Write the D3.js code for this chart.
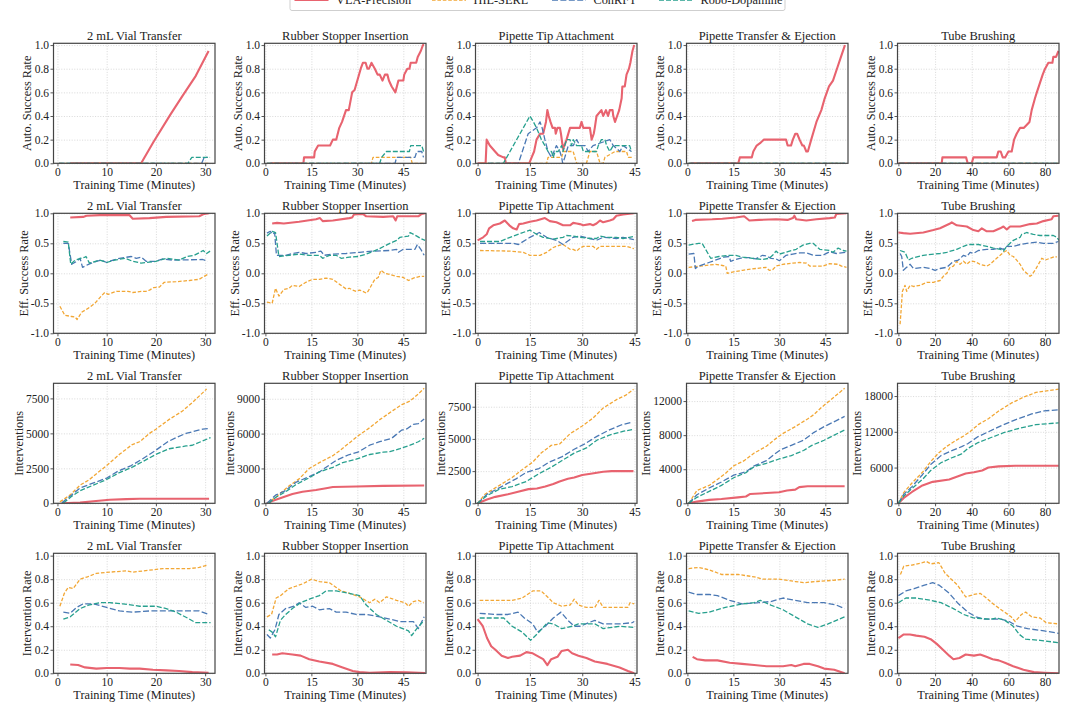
<!DOCTYPE html>
<html>
<head>
<meta charset="utf-8">
<script src="https://cdn.jsdelivr.net/npm/d3@7"></script>
<style>
  body { margin: 0; background: #fff; }
  svg text { font-family: "Liberation Serif", "Times New Roman", serif; fill: #222; }
</style>
</head>
<body>
<svg id="fig" width="1076" height="723" font-family="Liberation Serif"></svg>
<script>
// 4 metrics x 5 tasks, four methods per panel. Points are [minute, value].

const tasks = ["2 mL Vial Transfer", "Rubber Stopper Insertion", "Pipette Tip Attachment",
               "Pipette Transfer & Ejection", "Tube Brushing"];
const methods = ["VLA-Precision", "HIL-SERL", "ConRFT", "Robo-Dopamine"];

const xMax   = [32.0, 52.4, 45.7, 52.4, 87.6];
const xMin   = [-0.8, -0.3, -0.6, -0.3, -0.5];
const xTicks = [[0,10,20,30], [0,15,30,45], [0,15,30,45], [0,15,30,45], [0,20,40,60,80]];

const rateTicks = [0, 0.2, 0.4, 0.6, 0.8, 1.0];
const effTicks  = [-1.0, -0.5, 0.0, 0.5, 1.0];
const intTicks  = [[0,2500,5000,7500], [0,3000,6000,9000], [0,2500,5000,7500], [0,4000,8000,12000], [0,6000,12000,18000]];
const intTop    = [8580, 10330, 9320, 14085, 20140];

// ---- Auto. Success Rate ----
const autoVLA = [
  [[2.6,0],[17,0],[19.5,0.18],[22.9,0.41],[25.4,0.57],[28.1,0.74],[30.7,0.95]],
  [[1.6,0],[12.4,0],[12.6,0.05],[15.9,0.05],[16.1,0.1],[17.2,0.15],[21.1,0.15],[22,0.2],[23.1,0.2],[24.1,0.3],[25,0.35],[26.3,0.45],[27.2,0.45],[28.3,0.6],[29.1,0.62],[31.1,0.8],[31.8,0.85],[32.7,0.85],[33.3,0.8],[33.8,0.8],[34.6,0.85],[35.7,0.8],[36.6,0.75],[37.3,0.75],[38.2,0.7],[39,0.75],[39.8,0.75],[40.3,0.7],[41.2,0.65],[42.4,0.6],[43.4,0.7],[45,0.7],[45.3,0.75],[46.3,0.8],[47,0.8],[47.4,0.85],[49.2,0.85],[49.7,0.9],[50.7,0.95],[51.4,1.0],[51.8,1.0]],
  [[0,0],[2.3,0],[2.6,0.2],[3.5,0.15],[5,0.1],[5.9,0.07],[7.4,0.05],[7.8,0.05],[8.1,0],[14.8,0],[15.5,0.05],[16.2,0.1],[16.9,0.2],[17.9,0.25],[18.8,0.25],[19.6,0.35],[20,0.45],[20.4,0.4],[20.9,0.35],[21.5,0.3],[22.2,0.3],[22.4,0.25],[22.9,0.3],[23.6,0.3],[23.9,0.25],[24.5,0.12],[25.5,0.2],[26.5,0.3],[29.3,0.3],[29.8,0.35],[30.3,0.3],[32.2,0.3],[32.7,0.2],[33.3,0.25],[33.6,0.3],[34.1,0.4],[35.5,0.45],[36,0.4],[36.8,0.45],[37.4,0.4],[37.9,0.45],[38.7,0.45],[38.9,0.4],[39.4,0.35],[40,0.4],[40.6,0.45],[41.3,0.55],[41.5,0.65],[42.2,0.65],[42.7,0.75],[43.4,0.8],[43.8,0.85],[44.4,0.95],[44.9,1.0]],
  [[1.0,0],[16.6,0],[17.1,0.05],[21,0.05],[21.5,0.1],[22.6,0.15],[23.7,0.17],[24.9,0.2],[32.2,0.2],[32.7,0.15],[33.8,0.15],[34.4,0.2],[35.2,0.25],[35.8,0.25],[36.6,0.2],[37.5,0.15],[38,0.15],[38.8,0.1],[39.3,0.1],[40.4,0.2],[42.1,0.35],[43.7,0.45],[44.8,0.55],[46.2,0.65],[47.5,0.7],[48.8,0.8],[50.1,0.9],[51.4,1.0]],
  [[0,0],[23.6,0],[24,0.05],[36.9,0.05],[37.8,0],[40,0],[40.9,0.05],[53.6,0.05],[54.5,0.1],[55.8,0.1],[56.9,0.05],[58.2,0.05],[60,0.1],[61.8,0.1],[63.1,0.2],[64.5,0.25],[66.4,0.3],[68.5,0.3],[71.5,0.35],[72.7,0.45],[74.5,0.55],[75.5,0.6],[78.7,0.75],[80,0.8],[81.8,0.85],[84,0.85],[84.5,0.9],[86,0.9],[87.3,0.95]]
];
const autoHIL = [
  [[0.3,0],[31,0]],
  [[0.5,0],[34.6,0],[35.1,0.05],[47.4,0.05],[47.9,0],[51.8,0]],
  [[0.7,0],[19.8,0],[20.2,0.05],[24.1,0.05],[24.5,0.1],[27.4,0.1],[27.9,0.05],[28.4,0],[31.2,0],[31.7,0.05],[32.2,0.1],[34.1,0.1],[34.6,0.05],[35.1,0],[36,0],[36.5,0.05],[39.4,0.1],[42.7,0.1],[43.2,0.05],[44.4,0.05]],
  [[0.4,0],[51.4,0]],
  [[0.5,0],[87.3,0]]
];
const autoCon = [
  [[0.3,0],[29.3,0],[29.8,0.05],[30.5,0.05]],
  [[0.5,0],[42.3,0],[42.8,0.05],[48.8,0.05],[49.4,0.1],[51,0.1],[51.6,0.05]],
  [[3,0],[11.7,0],[14.5,0.25],[16.9,0.3],[17.9,0.35],[18.5,0.3],[19.3,0.2],[20.2,0.1],[21.2,0.05],[21.9,0.1],[22.6,0.15],[23.6,0.1],[24.1,0.05],[24.4,0],[25,0.05],[25.5,0.1],[26,0.15],[27.4,0.15],[28.4,0.2],[29.3,0.15],[30.8,0.15],[31.7,0.1],[33.1,0.15],[37.9,0.2],[38.9,0.15],[40.8,0.1],[41.7,0.15],[44.1,0.1]],
  [[0.4,0],[51.4,0]],
  [[0.5,0],[87.3,0]]
];
const autoRobo = [
  [[0.3,0],[26.5,0],[27.3,0.05],[31,0.05]],
  [[0.5,0],[37.3,0],[37.9,0.05],[39.5,0.1],[47,0.1],[47.4,0.15],[51,0.15],[51.6,0.1]],
  [[3,0],[7.4,0],[15,0.4],[16,0.35],[16.9,0.3],[18.3,0.2],[19.3,0.15],[20.2,0.1],[21.2,0.1],[21.7,0.05],[22.2,0.1],[23.1,0.1],[24.1,0.15],[24.5,0.1],[25.5,0.2],[26.5,0.2],[26.9,0.15],[27.4,0.2],[28.4,0.15],[29.8,0.15],[30.3,0.1],[34.1,0.1],[34.6,0.15],[35.5,0.2],[36.5,0.2],[37,0.15],[37.9,0.1],[38.9,0.15],[43.6,0.15],[44.1,0.1]],
  [[0.4,0],[51.4,0]],
  [[0.5,0],[87.3,0]]
];

// ---- Eff. Success Rate ----
const effVLA = [
  [[2.6,0.93],[5.2,0.94],[5.9,0.96],[8.6,0.97],[14.6,0.97],[15.3,0.91],[18.7,0.92],[22.1,0.94],[28.8,0.95],[29.8,0.99],[30.8,1.0]],
  [[2.2,0.83],[3.8,0.84],[6,0.83],[11,0.86],[16.5,0.9],[17.8,0.92],[18.7,0.87],[22,0.88],[27.4,0.92],[28.3,0.93],[28.9,0.98],[31.8,0.99],[32.9,0.95],[38.4,0.94],[41.7,0.95],[42.5,0.88],[43,0.95],[49.9,0.95],[51,0.99],[52.1,1.0]],
  [[0,0.55],[1.6,0.6],[2.6,0.65],[3.3,0.75],[4.5,0.8],[6.4,0.83],[7.8,0.88],[9.1,0.8],[10.2,0.75],[11.2,0.73],[11.9,0.82],[13.1,0.83],[15,0.86],[16.9,0.88],[19.3,0.92],[20.7,0.87],[22.6,0.85],[24.5,0.8],[26.5,0.8],[27.4,0.84],[28.4,0.83],[29.3,0.82],[30.3,0.8],[32.2,0.82],[33.1,0.8],[34.1,0.83],[35.1,0.88],[36,0.85],[37.9,0.88],[38.9,0.9],[39.8,0.96],[41.7,0.98],[44.8,1.0]],
  [[1.5,0.87],[2.6,0.89],[8.1,0.9],[11.4,0.91],[15.8,0.93],[18.5,0.95],[20.2,0.88],[23.4,0.89],[28.9,0.9],[32.7,0.89],[34.4,0.92],[34.9,0.96],[35.5,0.9],[38.8,0.88],[42.1,0.9],[46.4,0.92],[48.1,0.93],[48.6,0.99],[51.9,1.0]],
  [[0,0.68],[2.7,0.67],[6.4,0.66],[13.6,0.68],[19.1,0.72],[22.7,0.75],[28.2,0.83],[29.1,0.85],[31.8,0.8],[37.3,0.78],[40.9,0.72],[43.6,0.7],[45.5,0.75],[48.2,0.7],[51.8,0.7],[55.5,0.75],[57.3,0.78],[59.1,0.73],[60.9,0.78],[66.4,0.78],[71.8,0.82],[75.5,0.83],[79.1,0.87],[83.6,0.9],[84.5,0.95],[87.3,0.96]]
];
const effHIL = [
  [[0.5,-0.55],[1.5,-0.7],[2.9,-0.72],[3.6,-0.73],[4,-0.77],[4.9,-0.65],[6.3,-0.58],[7.6,-0.5],[8.9,-0.38],[9.6,-0.32],[10.3,-0.35],[12,-0.3],[14.3,-0.3],[15.3,-0.32],[17,-0.3],[18,-0.3],[18.7,-0.28],[19.5,-0.24],[20.7,-0.23],[21.7,-0.15],[24.1,-0.14],[26.8,-0.12],[28.8,-0.1],[29.8,-0.05],[30.5,-0.02]],
  [[0.5,-0.48],[2.2,-0.5],[3.3,-0.25],[4.4,-0.38],[6,-0.27],[7.7,-0.25],[8.8,-0.2],[11,-0.22],[13.2,-0.15],[15.4,-0.1],[17.6,-0.1],[19.8,-0.08],[22,-0.1],[24.1,-0.18],[26.3,-0.26],[27.4,-0.25],[28.5,-0.28],[29.6,-0.3],[30.7,-0.28],[31.8,-0.3],[32.9,-0.33],[33.5,-0.3],[34.6,-0.2],[35.7,-0.1],[36.8,-0.07],[37.7,0.05],[39,0],[40.6,-0.02],[42.8,-0.05],[45,-0.07],[46.7,-0.12],[48.3,-0.08],[50.5,-0.05],[51.8,-0.05]],
  [[0.7,0.38],[9.3,0.37],[13.1,0.35],[15,0.3],[17.9,0.3],[19.8,0.35],[21.7,0.43],[22.6,0.45],[23.6,0.47],[24.5,0.48],[26.5,0.4],[27.4,0.4],[28.4,0.37],[29.3,0.42],[30.3,0.45],[33.1,0.45],[34.1,0.4],[35.1,0.45],[42.7,0.45],[44.8,0.41]],
  [[0.4,0.1],[2.6,0.11],[9.2,0.15],[11.4,0.13],[12.5,0.12],[13,0],[14.7,0.02],[18,0.05],[22.3,0.08],[25.6,0.1],[26.7,0.05],[27.8,0.06],[28.9,0.12],[31.1,0.15],[34.4,0.17],[36.6,0.18],[38.8,0.17],[39.9,0.12],[44.2,0.12],[46.4,0.16],[49.2,0.15],[50.3,0.12],[51.9,0.1]],
  [[0.9,-0.85],[1.5,-0.6],[2.2,-0.3],[3.6,-0.2],[4.5,-0.3],[6.4,-0.2],[8.2,-0.22],[11.8,-0.2],[15.5,-0.15],[19.1,-0.15],[22.7,-0.12],[24.5,-0.05],[26.4,0],[28.2,0.1],[30,0.12],[31.8,0.2],[33.6,0.15],[35.5,0.2],[37.3,0.15],[39.1,0.2],[40.9,0.2],[42.7,0.18],[44.5,0.15],[48.2,0.12],[50,0.15],[51.8,0.2],[53.6,0.25],[55.5,0.3],[57.3,0.35],[59.1,0.38],[60.9,0.3],[62.7,0.28],[64.5,0.22],[66.4,0.15],[68.2,0.05],[70,0],[71.8,-0.05],[72.7,-0.03],[74.5,0.05],[76.4,0.15],[78.2,0.25],[80,0.22],[82.7,0.25],[85.5,0.28],[86.4,0.27]]
];
const effCon = [
  [[1.2,0.5],[2.2,0.5],[2.9,0.15],[3.9,0.2],[4.6,0.25],[5.1,0.1],[6.3,0.15],[7.9,0.2],[8.9,0.22],[10,0.18],[11.3,0.22],[12.6,0.25],[15,0.28],[16,0.25],[17,0.27],[18,0.2],[20,0.2],[21.4,0.24],[23.4,0.22],[29.5,0.23],[30.5,0.2]],
  [[0.5,0.67],[1.6,0.7],[2.4,0.65],[3,0.68],[3.6,0.3],[6.6,0.3],[8.8,0.33],[11,0.35],[13.2,0.33],[16.5,0.35],[18.1,0.37],[19.2,0.3],[22,0.32],[26.3,0.33],[30.7,0.35],[35.1,0.37],[40.6,0.38],[42.8,0.4],[43.4,0.35],[45,0.4],[48.8,0.4],[49.6,0.48],[50.7,0.4],[51.8,0.3]],
  [[0.7,0.5],[10.2,0.5],[11.7,0.48],[15,0.6],[17.7,0.68],[19.8,0.6],[22.6,0.55],[24.5,0.48],[27.4,0.6],[29.3,0.62],[32.2,0.58],[34.1,0.55],[36,0.6],[39.8,0.58],[41.7,0.6],[44.8,0.56]],
  [[0.4,0.32],[2.1,0.33],[2.6,0.08],[3.7,0.12],[7,0.18],[10.3,0.24],[11.9,0.27],[13.6,0.28],[14.1,0.2],[15.8,0.23],[18,0.26],[20.2,0.26],[22.3,0.24],[24.5,0.3],[25.6,0.29],[27.3,0.25],[28.9,0.24],[30,0.21],[32.2,0.3],[34.4,0.32],[36.6,0.34],[38.8,0.34],[41,0.3],[44.2,0.3],[46.4,0.36],[48.6,0.33],[51.9,0.35]],
  [[0.9,0.33],[1.8,0.28],[2.7,0.05],[4.5,0.1],[6.4,0.15],[8.2,0.08],[13.6,0.1],[17.3,0.08],[20,0.05],[22.7,0.08],[26.4,0.1],[30,0.2],[32.7,0.22],[35.5,0.3],[37.3,0.28],[39.1,0.35],[40.9,0.33],[43.6,0.38],[48.2,0.4],[51.8,0.4],[55.5,0.42],[57.3,0.4],[59.1,0.45],[62.7,0.45],[66.4,0.48],[70,0.5],[75.5,0.52],[79.1,0.5],[84.5,0.5],[87.3,0.53]]
];
const effRobo = [
  [[1.2,0.53],[2.2,0.52],[2.7,0.15],[3.6,0.22],[5.6,0.27],[5.8,0.28],[6.5,0.17],[8.6,0.22],[10,0.18],[11.6,0.22],[13.7,0.25],[15.3,0.2],[17,0.17],[18,0.18],[20,0.2],[22.1,0.25],[24.7,0.22],[26.4,0.28],[27.8,0.3],[29.6,0.38],[30.3,0.33],[31,0.37]],
  [[0.5,0.62],[2.2,0.7],[3.3,0.68],[4.4,0.28],[7.7,0.3],[11,0.32],[14.3,0.3],[17.6,0.3],[18.7,0.25],[20.9,0.3],[23.1,0.3],[24.7,0.25],[27.4,0.27],[30.2,0.28],[32.9,0.32],[36.8,0.4],[40.6,0.5],[42.8,0.55],[43.9,0.6],[46.7,0.62],[47.2,0.68],[49.4,0.62],[50.7,0.58],[52.1,0.55]],
  [[0.7,0.53],[6.4,0.53],[9.3,0.6],[14,0.7],[15,0.72],[16.9,0.65],[18.8,0.6],[21.7,0.57],[24.5,0.6],[25.5,0.63],[27.4,0.62],[29.3,0.6],[32.2,0.58],[34.1,0.58],[35.1,0.62],[37,0.6],[39.8,0.6],[41.7,0.58],[44.6,0.61]],
  [[0.4,0.47],[3.7,0.5],[4.8,0.5],[7.6,0.25],[10.3,0.28],[13.6,0.3],[15.8,0.3],[18,0.27],[21.2,0.25],[24.5,0.23],[26.7,0.25],[27.8,0.3],[28.9,0.37],[30,0.32],[32.2,0.35],[33.3,0.37],[35.5,0.4],[37.7,0.47],[39.9,0.5],[41,0.5],[42.1,0.45],[43.2,0.4],[46.4,0.38],[47.5,0.35],[49.2,0.42],[50.8,0.38],[51.9,0.37]],
  [[0.9,0.38],[3.6,0.35],[5.5,0.22],[7.3,0.25],[13.6,0.3],[22.7,0.33],[26.4,0.35],[31.8,0.4],[35.5,0.45],[38.2,0.48],[43.6,0.48],[48.2,0.45],[51.8,0.42],[55.5,0.4],[57.3,0.37],[59.1,0.45],[60.9,0.5],[62.7,0.55],[66.4,0.6],[67.3,0.65],[70,0.68],[73.6,0.65],[77.3,0.63],[84.5,0.63],[86.4,0.6],[87.6,0.55]]
];

// ---- Interventions (cumulative) ----
const intVLA = [
  [[0.9,0],[4.6,50],[7.3,150],[10.6,250],[14,300],[16.7,330],[30.8,330]],
  [[0.5,0],[2.2,200],[5.5,500],[8.8,800],[12.1,1000],[16.5,1150],[19.8,1300],[22,1400],[29.6,1450],[38.4,1500],[51.8,1530]],
  [[0,0],[2.7,300],[5.1,500],[8.7,700],[11.6,900],[14.6,1100],[17,1150],[19.4,1300],[21.7,1500],[23.5,1700],[25.9,1900],[27.7,2000],[30,2200],[32.4,2300],[36,2450],[38.4,2500],[44.7,2500]],
  [[0.4,0],[3.1,200],[7.1,400],[11.1,500],[16.5,700],[19.1,800],[20.5,1100],[25.8,1200],[29.9,1300],[32.5,1500],[35.2,1600],[36.5,1900],[39.2,2000],[51.3,2000]],
  [[0,0],[2.9,900],[7.4,1900],[13.1,3000],[18.7,3600],[27.7,4000],[32.2,4500],[36.7,5000],[41.2,5200],[45.7,5500],[49.1,6000],[54.7,6200],[63.7,6300],[87.4,6300]]
];
const intHIL = [
  [[0.5,100],[2.6,600],[4.6,1300],[6.3,1650],[10,2700],[12.6,3500],[15.2,4200],[16.7,4400],[18.7,5000],[20,5300],[22.7,6000],[25.4,6600],[27.4,7200],[30.3,8170]],
  [[0.5,0],[3.3,500],[7.7,1500],[11,2100],[14.3,3000],[17.6,3500],[22,4100],[24.1,4500],[27.4,5200],[30.2,5800],[34,6500],[37.3,7200],[41.7,8000],[44.5,8500],[47.2,8800],[49.4,9300],[51.8,9900]],
  [[0,0],[2.1,700],[5.7,1300],[9.9,2000],[12.2,2500],[15.8,3200],[18.2,3900],[21.1,4500],[23.5,4600],[26.5,5400],[30,6000],[33,6600],[36,7400],[40.1,8100],[42.5,8400],[44.7,8850]],
  [[0.4,0],[3.1,1500],[7.1,2100],[9.8,2800],[12.4,3500],[15.1,4400],[18.5,5000],[21.8,5900],[25.8,6700],[28.5,7500],[31.2,8200],[35.2,9000],[39.2,9900],[41.2,10400],[43.9,11300],[47.3,12300],[51.3,13500]],
  [[0,0],[2.9,1800],[7.4,3400],[13.1,5200],[17.6,7000],[22.1,8500],[26.6,9600],[31.1,10500],[35.6,11300],[39,12000],[43.5,13200],[49.1,14200],[54.7,15500],[61.5,16800],[68.2,17800],[75,18600],[87.4,19150]]
];
const intCon = [
  [[0.9,30],[2.9,600],[4.6,1100],[6.9,1400],[10,1800],[12.3,2300],[15,2700],[17.4,3200],[20,3800],[22.4,4400],[24.1,4700],[26.1,5000],[29.5,5300],[30.7,5350]],
  [[0.5,0],[3.3,700],[6.6,1100],[9.9,1800],[14.3,2300],[17.6,2700],[20.9,3300],[23.1,3700],[27.4,4200],[30.2,4400],[34,5000],[37.3,5300],[41.2,5600],[44.5,6300],[46.1,6400],[48.3,6800],[49.9,6850],[51.8,7250]],
  [[0,0],[2.7,700],[6.9,1300],[11,1900],[14,2400],[17.6,2700],[20.5,3200],[24.1,3600],[27.7,4200],[30.6,4600],[34.2,5200],[37.8,5700],[41.3,6100],[44.3,6300]],
  [[0.4,0],[3.1,1000],[7.1,1800],[11.1,2500],[15.1,3300],[19.1,3700],[21.8,4400],[25.8,5000],[28.5,5800],[30.5,6300],[33.9,6800],[37.9,7400],[41.2,8300],[44.6,9000],[48.6,9700],[51.3,10200]],
  [[0,0],[2.9,1500],[7.4,2800],[13.1,4800],[17.6,6500],[23.2,8000],[28.8,8800],[34.5,9500],[37.8,10000],[43.5,11200],[49.1,12000],[55.9,13000],[63.7,14000],[72.7,15000],[79.5,15500],[87.4,15700]]
];
const intRobo = [
  [[1.2,20],[2.9,500],[4.6,900],[7.3,1300],[10,1700],[12.6,2200],[15.3,2600],[17.4,3000],[20,3500],[22.7,3900],[26.1,4100],[27.4,4150],[29.1,4400],[31.1,4700]],
  [[1.1,0],[3.3,500],[6.6,1000],[9.9,1600],[14.3,2200],[17.6,2700],[22,3100],[25.2,3500],[29.6,3800],[34,4200],[38.4,4400],[40.6,4450],[43.9,4700],[47.2,5000],[49.9,5300],[51.8,5600]],
  [[0,0],[2.7,600],[6.3,1100],[9.9,1300],[14,1700],[17.6,2300],[21.1,2800],[24.1,3300],[27.7,3900],[31.2,4300],[34.2,4900],[37.8,5300],[41.9,5600],[44.7,5750]],
  [[0.4,0],[3.1,700],[7.1,1400],[11.1,2100],[15.1,3000],[19.1,3600],[21.8,4300],[25.8,4700],[29.9,5200],[33.9,5600],[37.9,6200],[40.6,6800],[44.6,7400],[47.9,8000],[51.3,8600]],
  [[0,0],[2.9,1200],[7.4,2500],[13.1,4000],[17.6,5500],[23.2,6800],[28.8,7600],[34.5,8300],[37.8,9200],[43.5,10200],[50.2,11000],[57,11800],[66,12600],[75,13200],[87.4,13500]]
];

// ---- Intervention Rate ----
const rateVLA = [
  [[2.6,0.075],[4.2,0.07],[5.6,0.05],[7.9,0.04],[10,0.045],[12.6,0.045],[14.7,0.04],[16.7,0.04],[19.4,0.03],[22.1,0.025],[24.7,0.02],[27.4,0.01],[30.7,0.005]],
  [[2.2,0.16],[3.8,0.16],[5.5,0.17],[8.8,0.16],[11.5,0.15],[14.3,0.12],[17.6,0.1],[22,0.08],[25.2,0.05],[28.5,0.02],[30.7,0.01],[34,0.005],[40.6,0.01],[46.1,0.008],[52.1,0.002]],
  [[0,0.46],[1.5,0.4],[2.7,0.3],[3.9,0.23],[5.1,0.2],[6.9,0.15],[8.7,0.13],[9.9,0.14],[12.2,0.15],[14,0.18],[15.8,0.17],[17.6,0.14],[18.8,0.12],[20,0.07],[21.1,0.12],[22.9,0.14],[24.1,0.19],[25.9,0.2],[27.1,0.17],[28.9,0.15],[31.2,0.13],[33.6,0.1],[37.2,0.08],[40.7,0.05],[43.1,0.02],[44.9,0]],
  [[1.7,0.14],[3.1,0.12],[5.8,0.11],[9.8,0.11],[13.8,0.09],[17.8,0.08],[21.8,0.07],[25.8,0.06],[31.2,0.06],[33.9,0.07],[35.2,0.06],[37.9,0.08],[39.9,0.08],[42.6,0.06],[44.6,0.04],[47.9,0.03],[51.3,0]],
  [[0,0.3],[2.9,0.33],[6.3,0.33],[9.7,0.32],[14.2,0.31],[17.6,0.29],[20.9,0.25],[24.3,0.2],[27.7,0.15],[30,0.12],[33.3,0.13],[36.7,0.16],[41.2,0.15],[44.6,0.16],[48,0.14],[51.4,0.12],[54.7,0.11],[58.1,0.09],[62.6,0.06],[68.2,0.03],[73.9,0.01],[79.5,0.005],[87.4,0]]
];
const rateHIL = [
  [[0.5,0.57],[1.4,0.68],[2.2,0.73],[3.2,0.72],[4.6,0.8],[6.1,0.82],[7.9,0.85],[10.6,0.86],[14,0.87],[15.3,0.86],[17.4,0.87],[19.4,0.88],[21.4,0.89],[26.8,0.89],[28.8,0.9],[30.5,0.92]],
  [[0.5,0.48],[2,0.5],[3.5,0.64],[4.9,0.66],[7.7,0.72],[9.9,0.74],[12.1,0.76],[15.1,0.8],[17.6,0.78],[20.9,0.77],[23.1,0.73],[24.7,0.7],[27.4,0.68],[30.7,0.65],[34,0.6],[35.7,0.63],[37.3,0.6],[39.5,0.65],[42.8,0.62],[45.6,0.6],[46.7,0.57],[48.3,0.61],[49.9,0.62],[51.6,0.6]],
  [[0.6,0.62],[9.9,0.62],[12.8,0.64],[15.8,0.7],[18.2,0.7],[20,0.65],[21.7,0.6],[24.1,0.57],[26.5,0.58],[27.7,0.63],[28.9,0.58],[31.2,0.56],[33.6,0.56],[34.8,0.62],[36,0.56],[43.1,0.56],[43.7,0.6],[44.9,0.59]],
  [[0.4,0.89],[3.7,0.9],[7.1,0.88],[11.1,0.84],[16.5,0.84],[21.8,0.82],[24.5,0.8],[29.9,0.8],[35.2,0.78],[37.9,0.77],[41.9,0.78],[47.3,0.79],[51.3,0.8]],
  [[1.1,0.84],[2.9,0.91],[7.4,0.92],[13.1,0.94],[15.3,0.95],[17.6,0.93],[22.1,0.94],[25.5,0.85],[28.8,0.8],[32.2,0.75],[36.7,0.65],[41.2,0.67],[44.6,0.68],[48,0.64],[52.5,0.58],[57,0.53],[61.5,0.48],[63.7,0.44],[67.1,0.5],[69.4,0.52],[72.7,0.48],[77.3,0.47],[80.6,0.43],[87.4,0.42]]
];
const rateCon = [
  [[1.2,0.52],[2.6,0.51],[3.9,0.56],[5.2,0.59],[7.3,0.59],[10,0.56],[12.6,0.53],[15.3,0.52],[18.7,0.53],[28.8,0.53],[30.7,0.5]],
  [[0.5,0.33],[1.6,0.3],[3.1,0.37],[4.4,0.5],[6.6,0.55],[9.3,0.57],[11,0.6],[13.2,0.56],[15.4,0.57],[17.6,0.54],[20.9,0.55],[23.1,0.52],[26.3,0.52],[29.6,0.5],[32.9,0.5],[37.3,0.48],[40.6,0.46],[43.9,0.44],[48.3,0.44],[49.9,0.38],[51.8,0.48]],
  [[0.6,0.51],[5.1,0.5],[8.7,0.5],[11.6,0.52],[13.4,0.47],[15.8,0.42],[17.2,0.35],[19.4,0.4],[21.7,0.47],[23.9,0.52],[25.9,0.45],[27.7,0.4],[29.5,0.4],[31.8,0.43],[33.6,0.45],[36,0.42],[40.7,0.42],[44.3,0.43],[44.9,0.44]],
  [[0.4,0.69],[3.1,0.67],[7.1,0.67],[9.8,0.66],[13.8,0.62],[17.8,0.59],[23.2,0.6],[27.2,0.61],[31.2,0.64],[35.2,0.62],[39.2,0.6],[44.6,0.6],[48.6,0.58],[51.3,0.55]],
  [[0,0.66],[4.1,0.7],[8.6,0.72],[14.2,0.75],[18.7,0.77],[22.1,0.75],[27.7,0.68],[32.2,0.6],[37.8,0.52],[42.3,0.48],[46.8,0.46],[55.9,0.46],[60.4,0.44],[64.9,0.4],[70.5,0.38],[79.5,0.36],[87.4,0.34]]
];
const rateRobo = [
  [[1.2,0.46],[2.6,0.48],[4.6,0.55],[6.3,0.58],[8.6,0.6],[10.6,0.6],[13.3,0.59],[16.7,0.57],[20,0.57],[22.1,0.55],[24.1,0.52],[26.4,0.47],[28.1,0.43],[31.1,0.43]],
  [[1.1,0.37],[2.2,0.35],[3.3,0.31],[4.9,0.45],[6.6,0.5],[8.8,0.55],[11.5,0.6],[14.3,0.63],[17.6,0.66],[19.8,0.7],[23.1,0.7],[27.4,0.68],[30.7,0.66],[32.9,0.58],[36.2,0.5],[39.5,0.45],[42.8,0.4],[46.7,0.36],[47.7,0.32],[49.4,0.38],[51.8,0.45]],
  [[0.6,0.47],[7.5,0.47],[9.9,0.4],[12.8,0.35],[15.2,0.28],[17.6,0.35],[20,0.43],[21.7,0.42],[24.1,0.38],[27.1,0.4],[28.9,0.42],[33.6,0.42],[36,0.38],[40.7,0.4],[44.9,0.39]],
  [[0.4,0.53],[3.7,0.51],[7.1,0.52],[12.4,0.56],[17.8,0.59],[21.8,0.6],[23.8,0.62],[27.2,0.58],[31.2,0.54],[35.2,0.48],[39.2,0.42],[42.6,0.39],[45.9,0.42],[48.6,0.45],[51.3,0.48]],
  [[0,0.6],[4.1,0.64],[9.7,0.64],[17.6,0.62],[23.2,0.6],[30,0.55],[35.6,0.5],[41.2,0.47],[50.2,0.46],[53.6,0.47],[58.1,0.45],[62.6,0.4],[66,0.33],[69.4,0.29],[77.3,0.28],[87.4,0.26]]
];

// ---- styling ----
const FONT = "Liberation Serif";
const colors = ["#e8636f", "#f2a735", "#4a78b4", "#27a08e"];
const dashes = [null, "3.6,1.8", "6,2.4", "5,2"];
const widths = [2.1, 1.3, 1.3, 1.3];

const left0 = 53.5, colStep = 211, pw = 161.5;
const top0 = 43.3, rowStep = 170, ph = 120;

const fmt1 = v => v.toFixed(1);
const rows = [
  { ylabel: "Auto. Success Rate", series: [autoVLA, autoHIL, autoCon, autoRobo],
    ydom: c => [0, 1.015], ticks: c => rateTicks, fmt: fmt1 },
  { ylabel: "Eff. Success Rate", series: [effVLA, effHIL, effCon, effRobo],
    ydom: c => [-1, 1], ticks: c => effTicks, fmt: fmt1 },
  { ylabel: "Interventions", series: [intVLA, intHIL, intCon, intRobo],
    ydom: c => [0, intTop[c]], ticks: c => intTicks[c], fmt: v => String(v) },
  { ylabel: "Intervention Rate", series: [rateVLA, rateHIL, rateCon, rateRobo],
    ydom: c => [0, 1.02], ticks: c => rateTicks, fmt: fmt1 }
];

const svg = d3.select("#fig");
const defs = svg.append("defs");

function label(sel, size) {
  return sel.attr("font-family", FONT).attr("font-size", size).attr("fill", "#222");
}

rows.forEach((row, r) => {
  tasks.forEach((task, c) => {
    const x0 = left0 + c * colStep, y0 = top0 + r * rowStep;
    const x = d3.scaleLinear().domain([xMin[c], xMax[c]]).range([0, pw]);
    const y = d3.scaleLinear().domain(row.ydom(c)).range([ph, 0]);
    const g = svg.append("g").attr("transform", `translate(${x0},${y0})`);

    const clipId = `clip-${r}-${c}`;
    defs.append("clipPath").attr("id", clipId)
      .append("rect").attr("width", pw).attr("height", ph);

    // dotted grid
    g.append("g").attr("class", "grid")
      .call(d3.axisBottom(x).tickValues(xTicks[c]).tickSize(ph).tickFormat(""))
      .call(s => s.select(".domain").remove());
    g.append("g").attr("class", "grid")
      .call(d3.axisLeft(y).tickValues(row.ticks(c)).tickSize(-pw).tickFormat(""))
      .call(s => s.select(".domain").remove());
    g.selectAll(".grid line")
      .attr("stroke", "#c8c8c8").attr("stroke-width", 0.7).attr("stroke-dasharray", "1,1.6");

    // series lines
    const line = d3.line().x(d => x(d[0])).y(d => y(d[1]));
    const lg = g.append("g").attr("clip-path", `url(#${clipId})`);
    row.series.forEach((s, m) => {
      lg.append("path")
        .datum(s[c])
        .attr("d", line)
        .attr("fill", "none")
        .attr("stroke", colors[m])
        .attr("stroke-width", widths[m])
        .attr("stroke-dasharray", dashes[m])
        .attr("stroke-linejoin", "round");
    });

    // frame
    g.append("rect").attr("width", pw).attr("height", ph)
      .attr("fill", "none").attr("stroke", "#444").attr("stroke-width", 1.2);

    // axes
    const ax = g.append("g").attr("transform", `translate(0,${ph})`)
      .call(d3.axisBottom(x).tickValues(xTicks[c]).tickSize(3).tickPadding(1.5).tickSizeOuter(0));
    const ay = g.append("g")
      .call(d3.axisLeft(y).tickValues(row.ticks(c)).tickSize(3).tickPadding(1.5).tickSizeOuter(0).tickFormat(row.fmt));
    [ax, ay].forEach(a => {
      a.attr("font-family", null).attr("font-size", null);
      a.select(".domain").remove();
      a.selectAll("line").attr("stroke", "#444").attr("stroke-width", 0.9);
      label(a.selectAll("text"), 11.5);
    });

    let maxW = 0;
    ay.selectAll("text").each(function () { maxW = Math.max(maxW, this.getBBox().width); });

    label(g.append("text"), 12.5)
      .attr("x", pw / 2).attr("y", -3)
      .attr("text-anchor", "middle")
      .text(task);
    label(g.append("text"), 12.3)
      .attr("x", pw / 2).attr("y", ph + 25.7)
      .attr("text-anchor", "middle")
      .text("Training Time (Minutes)");
    label(g.append("text"), 12.3)
      .attr("transform", `translate(${-4.5 - maxW - 3},${ph / 2}) rotate(-90)`)
      .attr("text-anchor", "middle")
      .text(row.ylabel);
  });
});

// legend (its top edge runs off the figure, as in the source)
const legendX = [294.5, 432, 552, 659];
const leg = svg.append("g");
leg.append("rect")
  .attr("x", 290).attr("y", -14).attr("width", 495).attr("height", 24.5)
  .attr("rx", 2).attr("fill", "#fff").attr("stroke", "#cfcfcf").attr("stroke-width", 1);
methods.forEach((name, m) => {
  leg.append("line")
    .attr("x1", legendX[m]).attr("x2", legendX[m] + 34)
    .attr("y1", 0).attr("y2", 0)
    .attr("stroke", colors[m]).attr("stroke-width", widths[m])
    .attr("stroke-dasharray", dashes[m]);
  label(leg.append("text"), 12.3)
    .attr("x", legendX[m] + 41.5).attr("y", 4)
    .text(name);
});
</script>
</body>
</html>
